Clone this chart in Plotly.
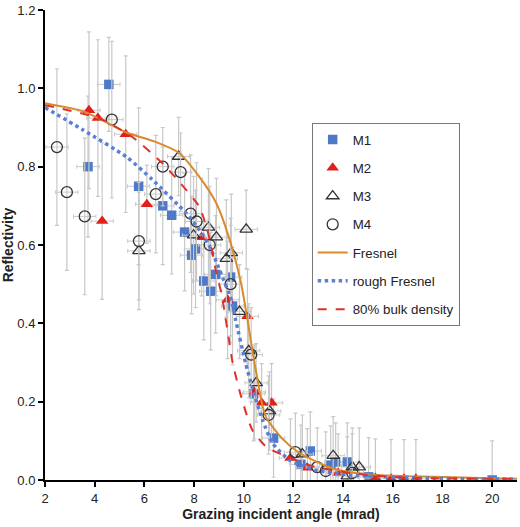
"""Reflectivity vs grazing incident angle, measured points and model curves."""
import plotly.graph_objects as go

m1_x = [3.73, 4.57, 5.77, 6.74, 7.1, 7.62, 7.9, 8.06, 8.39, 8.67, 8.87, 9.47,
        9.55, 10.4, 11.2, 12.3, 12.68, 13.5, 13.7, 14.17, 15.03, 20.0]
m1_y = [0.80, 1.01, 0.75, 0.70, 0.676, 0.633, 0.574, 0.59, 0.508, 0.482, 0.525, 0.518,
        0.444, 0.22, 0.107, 0.04, 0.074, 0.038, 0.046, 0.046, 0.008, 0.0]
m1_err = [0.18, 0.12, 0.2, 0.15, 0.15, 0.15, 0.15, 0.15, 0.15, 0.15, 0.15, 0.15,
          0.15, 0.12, 0.1, 0.1, 0.1, 0.1, 0.1, 0.1, 0.1, 0.1]

m2_x = [3.77, 4.13, 4.3, 5.25, 6.1, 8.3, 9.35, 10.15, 10.43, 10.72, 11.12, 11.88,
        12.56, 13.8, 15.3, 15.93, 16.45, 16.93]
m2_y = [0.944, 0.924, 0.661, 0.883, 0.704, 0.62, 0.46, 0.418, 0.225, 0.197, 0.197, 0.056,
        0.031, 0.018, 0.005, 0.003, 0.003, 0.003]
m2_err = [0.2, 0.2, 0.2, 0.2, 0.1, 0.15, 0.15, 0.12, 0.12, 0.1, 0.1, 0.1,
          0.1, 0.1, 0.1, 0.1, 0.1, 0.1]

m3_x = [5.78, 7.38, 7.98, 8.58, 8.9, 9.3, 9.5, 9.83, 10.1, 10.2, 10.5, 11.04,
        12.36, 13.6, 14.17, 14.37, 14.65]
m3_y = [0.585, 0.826, 0.625, 0.645, 0.62, 0.565, 0.58, 0.43, 0.64, 0.33, 0.248, 0.176,
        0.066, 0.062, 0.01, 0.033, 0.033]
m3_err = [0.15, 0.1, 0.15, 0.15, 0.15, 0.15, 0.15, 0.12, 0.1, 0.12, 0.1, 0.1,
          0.1, 0.1, 0.1, 0.1, 0.1]

m4_x = [2.48, 2.88, 3.6, 4.69, 5.78, 6.46, 6.74, 7.46, 7.86, 8.1, 8.63, 9.47,
        10.3, 11.0, 12.08, 12.96, 13.3, 14.37]
m4_y = [0.85, 0.735, 0.673, 0.92, 0.61, 0.73, 0.80, 0.786, 0.68, 0.66, 0.60, 0.50,
        0.32, 0.166, 0.071, 0.033, 0.023, 0.018]
m4_err = [0.2, 0.2, 0.2, 0.2, 0.15, 0.15, 0.1, 0.1, 0.15, 0.15, 0.15, 0.15,
          0.12, 0.1, 0.1, 0.1, 0.1, 0.1]

x_err = 0.45

# model curves
fresnel_x = [2, 3.6, 5.25, 6.5, 7.4, 8.2, 8.9, 9.45, 9.9, 10.15, 10.4, 10.56,
             10.7, 10.9, 11.56, 12.24, 13.57, 14.9, 17.6, 21]
fresnel_y = [0.962, 0.94, 0.888, 0.862, 0.835, 0.775, 0.706, 0.61, 0.5, 0.41, 0.31, 0.255,
             0.205, 0.16, 0.105, 0.069, 0.03, 0.015, 0.008, 0.003]

rough_x = [2, 3.5, 5.3, 6.3, 7.7, 8.22, 8.6, 9.03, 9.5, 9.67, 10.07, 10.35,
           10.76, 11.16, 11.84, 12.9, 14.25, 17, 21]
rough_y = [0.951, 0.895, 0.824, 0.768, 0.68, 0.638, 0.6, 0.536, 0.46, 0.41, 0.3, 0.235,
           0.153, 0.094, 0.051, 0.025, 0.013, 0.005, 0.002]

bulk_x = [2, 4.2, 5.53, 6.74, 7.42, 8.22, 8.63, 8.9, 9.1, 9.25, 9.4, 9.55,
          9.9, 10.35, 10.9, 11.56, 12.9, 14.9, 17, 21]
bulk_y = [0.957, 0.923, 0.875, 0.808, 0.76, 0.697, 0.615, 0.528, 0.477, 0.42, 0.36, 0.3,
          0.212, 0.127, 0.085, 0.064, 0.033, 0.013, 0.005, 0.003]

bar_col = "#c8c8c8"


def errs(arr):
    return dict(type="data", array=arr, color=bar_col, thickness=1.2, width=2)


xerr = dict(type="constant", value=x_err, color=bar_col, thickness=1, width=2)

fig = go.Figure()

fig.add_trace(go.Scatter(x=m1_x, y=m1_y, mode="markers", name="M1", legendgroup="a",
                         marker=dict(symbol="square", size=9.5, color="#4d79c7"),
                         error_y=errs(m1_err), error_x=xerr))
fig.add_trace(go.Scatter(x=m2_x, y=m2_y, mode="markers", name="M2", legendgroup="b",
                         marker=dict(symbol="triangle-up", size=11, color="#e0201b"),
                         error_y=errs(m2_err), error_x=xerr))
fig.add_trace(go.Scatter(x=m3_x, y=m3_y, mode="markers", name="M3", legendgroup="c",
                         marker=dict(symbol="triangle-up-open", size=11, color="#333333",
                                     line=dict(width=1.3)),
                         error_y=errs(m3_err), error_x=xerr))
fig.add_trace(go.Scatter(x=m4_x, y=m4_y, mode="markers", name="M4", legendgroup="d",
                         marker=dict(symbol="circle-open", size=11, color="#333333",
                                     line=dict(width=1.3)),
                         error_y=errs(m4_err), error_x=xerr))

fig.add_trace(go.Scatter(x=fresnel_x, y=fresnel_y, mode="lines", name="Fresnel",
                         legendgroup="e", line=dict(color="#d98a2b", width=2,
                                                    shape="spline", smoothing=0.6)))
fig.add_trace(go.Scatter(x=rough_x, y=rough_y, mode="lines", name="rough Fresnel",
                         legendgroup="f", line=dict(color="#5b7fd6", width=3.5,
                                                    dash="dot", shape="spline",
                                                    smoothing=0.6)))
fig.add_trace(go.Scatter(x=bulk_x, y=bulk_y, mode="lines", name="80% bulk density",
                         legendgroup="g", line=dict(color="#e0302a", width=2,
                                                    dash="dash", shape="spline",
                                                    smoothing=0.6)))

fig.update_layout(
    width=520, height=527,
    margin=dict(l=45, r=3, t=10, b=47),
    plot_bgcolor="white",
    paper_bgcolor="white",
    font=dict(family="Arial, Liberation Sans, sans-serif", size=13, color="#222222"),
    showlegend=True,
    legend=dict(x=0.565, y=0.759, xanchor="left", yanchor="top",
                bordercolor="#777777", borderwidth=1, bgcolor="white",
                font=dict(size=13.3), tracegroupgap=8, itemwidth=30),
    xaxis=dict(range=[2, 21], tickvals=[2, 4, 6, 8, 10, 12, 14, 16, 18, 20],
               showgrid=False, zeroline=False, showline=True, linecolor="black",
               linewidth=2, ticks="outside", ticklen=5, tickwidth=1.5,
               tickcolor="black", automargin=False,
               title=dict(text="<b>Grazing incident angle (mrad)</b>",
                          font=dict(size=14), standoff=1)),
    yaxis=dict(range=[0, 1.2], tickvals=[0, 0.2, 0.4, 0.6, 0.8, 1.0, 1.2],
               tickformat=".1f", showgrid=False, zeroline=False, showline=True,
               linecolor="black", linewidth=2, ticks="outside", ticklen=5,
               tickwidth=1.5, tickcolor="black", automargin=False,
               title=dict(text="<b>Reflectivity</b>", font=dict(size=14),
                          standoff=6)),
)

# page body has a default margin; drop it so the figure sits at the corner
fig.write_html("out.html", config={"displayModeBar": False},
               post_script="document.body.style.margin='0px';")
